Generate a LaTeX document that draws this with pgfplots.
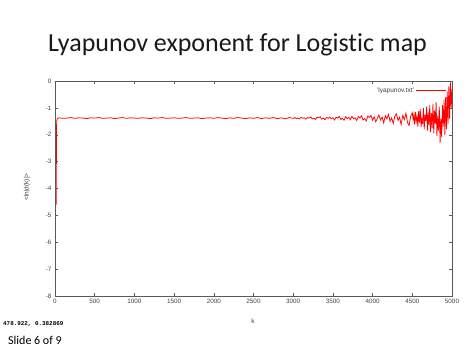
\documentclass[border=0pt]{standalone}
\usepackage{pgfplots}
\pgfplotsset{compat=1.18}
\usepackage{fontspec}
\setmainfont{Liberation Sans}
\newfontfamily\carlito[RawFeature={-liga;-dlig}]{Carlito}
\newfontfamily\monob{Liberation Mono}
\begin{document}
\begin{tikzpicture}[x=1pt,y=1pt]
\useasboundingbox (0,0) rectangle (474,355);
\node[font=\carlito\fontsize{26}{30}\selectfont, text=black!90] at (237.5,310) {Lyapunov exponent for Logistic map};
\node[font=\carlito\fontsize{12}{14}\selectfont, anchor=west, inner sep=0pt] at (8,15) {Slide 6 of 9};
\node[font=\monob\bfseries\fontsize{5.9}{6.5}\selectfont, anchor=west, inner sep=0pt] at (3,31) {478.922,\ 0.382869};
\node[font=\fontsize{6.5}{7}\selectfont, text=black!75] at (253,34) {k};
\node[font=\fontsize{6.5}{7}\selectfont, text=black!75, rotate=90] at (27,168) {<ln|d(k)|>};
\begin{axis}[
  at={(55pt,59pt)}, anchor=south west,
  width=397pt, height=215pt, scale only axis,
  xmin=0, xmax=5000, ymin=-8, ymax=0,
  xtick={0,500,...,5000}, ytick={-8,-7,...,0},
  /pgf/number format/assume math mode=true,
  scaled x ticks=false,
  xticklabel style={/pgf/number format/1000 sep={}},
  tick label style={font=\fontsize{6.3}{7}\selectfont, text=black!75},
  tick align=inside, major tick length=3pt,
  axis line style={black!65, line width=0.6pt},
  tick style={black!65, line width=0.5pt},
  legend style={draw=none, fill=none, at={(0.99,0.985)}, anchor=north east, font=\fontsize{6.5}{7}\selectfont, text=black!75, inner sep=1pt},
  legend cell align=right,
  legend plot pos=right,
  legend image code/.code={\draw[#1] (0pt,0pt) -- (30pt,0pt);},
]
\addplot[red, line width=0.75pt] coordinates {
(16,-4.6) (17,-3.3) (18,-2.6) (19,-2.0) (20,-1.65) (22,-1.50) (26,-1.42) (35,-1.39)
(50,-1.37) (100,-1.39) (150,-1.38) (200,-1.36) (250,-1.39) (300,-1.37) (350,-1.38) (400,-1.40)
(450,-1.37) (500,-1.38) (550,-1.36) (600,-1.39) (650,-1.38) (700,-1.37) (750,-1.40) (800,-1.38)
(850,-1.36) (900,-1.39) (950,-1.37) (1000,-1.38) (1050,-1.39) (1100,-1.37) (1150,-1.38) (1200,-1.40)
(1250,-1.37) (1300,-1.38) (1350,-1.36) (1400,-1.39) (1450,-1.38) (1500,-1.37) (1550,-1.39) (1600,-1.38)
(1650,-1.36) (1700,-1.39) (1750,-1.38) (1800,-1.37) (1850,-1.40) (1900,-1.38) (1950,-1.37) (2000,-1.39)
(2050,-1.36) (2100,-1.38) (2150,-1.40) (2200,-1.37) (2250,-1.39) (2300,-1.36) (2350,-1.38) (2400,-1.40)
(2450,-1.37) (2500,-1.39) (2550,-1.36) (2600,-1.40) (2650,-1.37) (2700,-1.39) (2750,-1.36) (2800,-1.40)
(2850,-1.37) (2900,-1.41) (2950,-1.36) (3000,-1.39)
(3020,-1.36) (3040,-1.40) (3060,-1.38) (3080,-1.41) (3100,-1.35) (3120,-1.39) (3140,-1.37) (3160,-1.42)
(3180,-1.36) (3200,-1.38) (3220,-1.34) (3240,-1.41) (3260,-1.39) (3280,-1.43) (3300,-1.35) (3320,-1.37)
(3340,-1.33) (3360,-1.42) (3380,-1.38) (3400,-1.44) (3420,-1.36) (3440,-1.39) (3460,-1.34) (3480,-1.40)
(3500,-1.37) (3520,-1.45) (3540,-1.35) (3560,-1.38) (3580,-1.32) (3600,-1.43) (3620,-1.39) (3640,-1.46)
(3660,-1.33) (3680,-1.40) (3700,-1.35) (3720,-1.44) (3740,-1.31) (3760,-1.41) (3780,-1.37) (3800,-1.47)
(3820,-1.32) (3840,-1.38) (3860,-1.29) (3880,-1.45) (3900,-1.40) (3920,-1.49) (3940,-1.30) (3960,-1.36)
(3980,-1.28) (4000,-1.46)
(4020,-1.33) (4040,-1.52) (4060,-1.39) (4080,-1.27) (4100,-1.45) (4120,-1.34) (4140,-1.56) (4160,-1.29)
(4180,-1.41) (4200,-1.24) (4220,-1.50) (4240,-1.37) (4260,-1.58) (4280,-1.31) (4300,-1.22) (4320,-1.47)
(4340,-1.35) (4360,-1.62) (4380,-1.28) (4400,-1.44) (4420,-1.20) (4440,-1.55) (4460,-1.66) (4480,-1.30)
(4500,-1.18)
(4510,-1.45) (4520,-1.25) (4530,-1.62) (4540,-1.15) (4550,-1.50) (4560,-1.32) (4570,-1.70) (4580,-1.12)
(4590,-1.55) (4600,-1.05) (4610,-1.72) (4620,-1.40) (4630,-1.60) (4640,-1.00) (4650,-1.80) (4660,-1.25)
(4670,-1.48) (4680,-0.95) (4690,-1.85) (4700,-1.15) (4710,-1.65) (4720,-0.90) (4730,-1.90) (4740,-1.20)
(4750,-1.75) (4760,-0.85) (4770,-1.95) (4780,-1.10) (4790,-1.60) (4800,-0.80) (4810,-2.05) (4820,-1.30)
(4830,-1.85) (4840,-0.95) (4850,-2.30) (4860,-1.40) (4870,-2.10) (4880,-0.90) (4890,-1.70) (4900,-0.70)
(4910,-2.00) (4920,-0.60) (4930,-1.80) (4940,-0.40) (4950,-1.60) (4960,-0.20) (4970,-1.40) (4980,-0.05)
(4990,-1.00) (5000,-0.30)
};
\addlegendentry{'lyapunov.txt'}
\end{axis}
\end{tikzpicture}
\end{document}
